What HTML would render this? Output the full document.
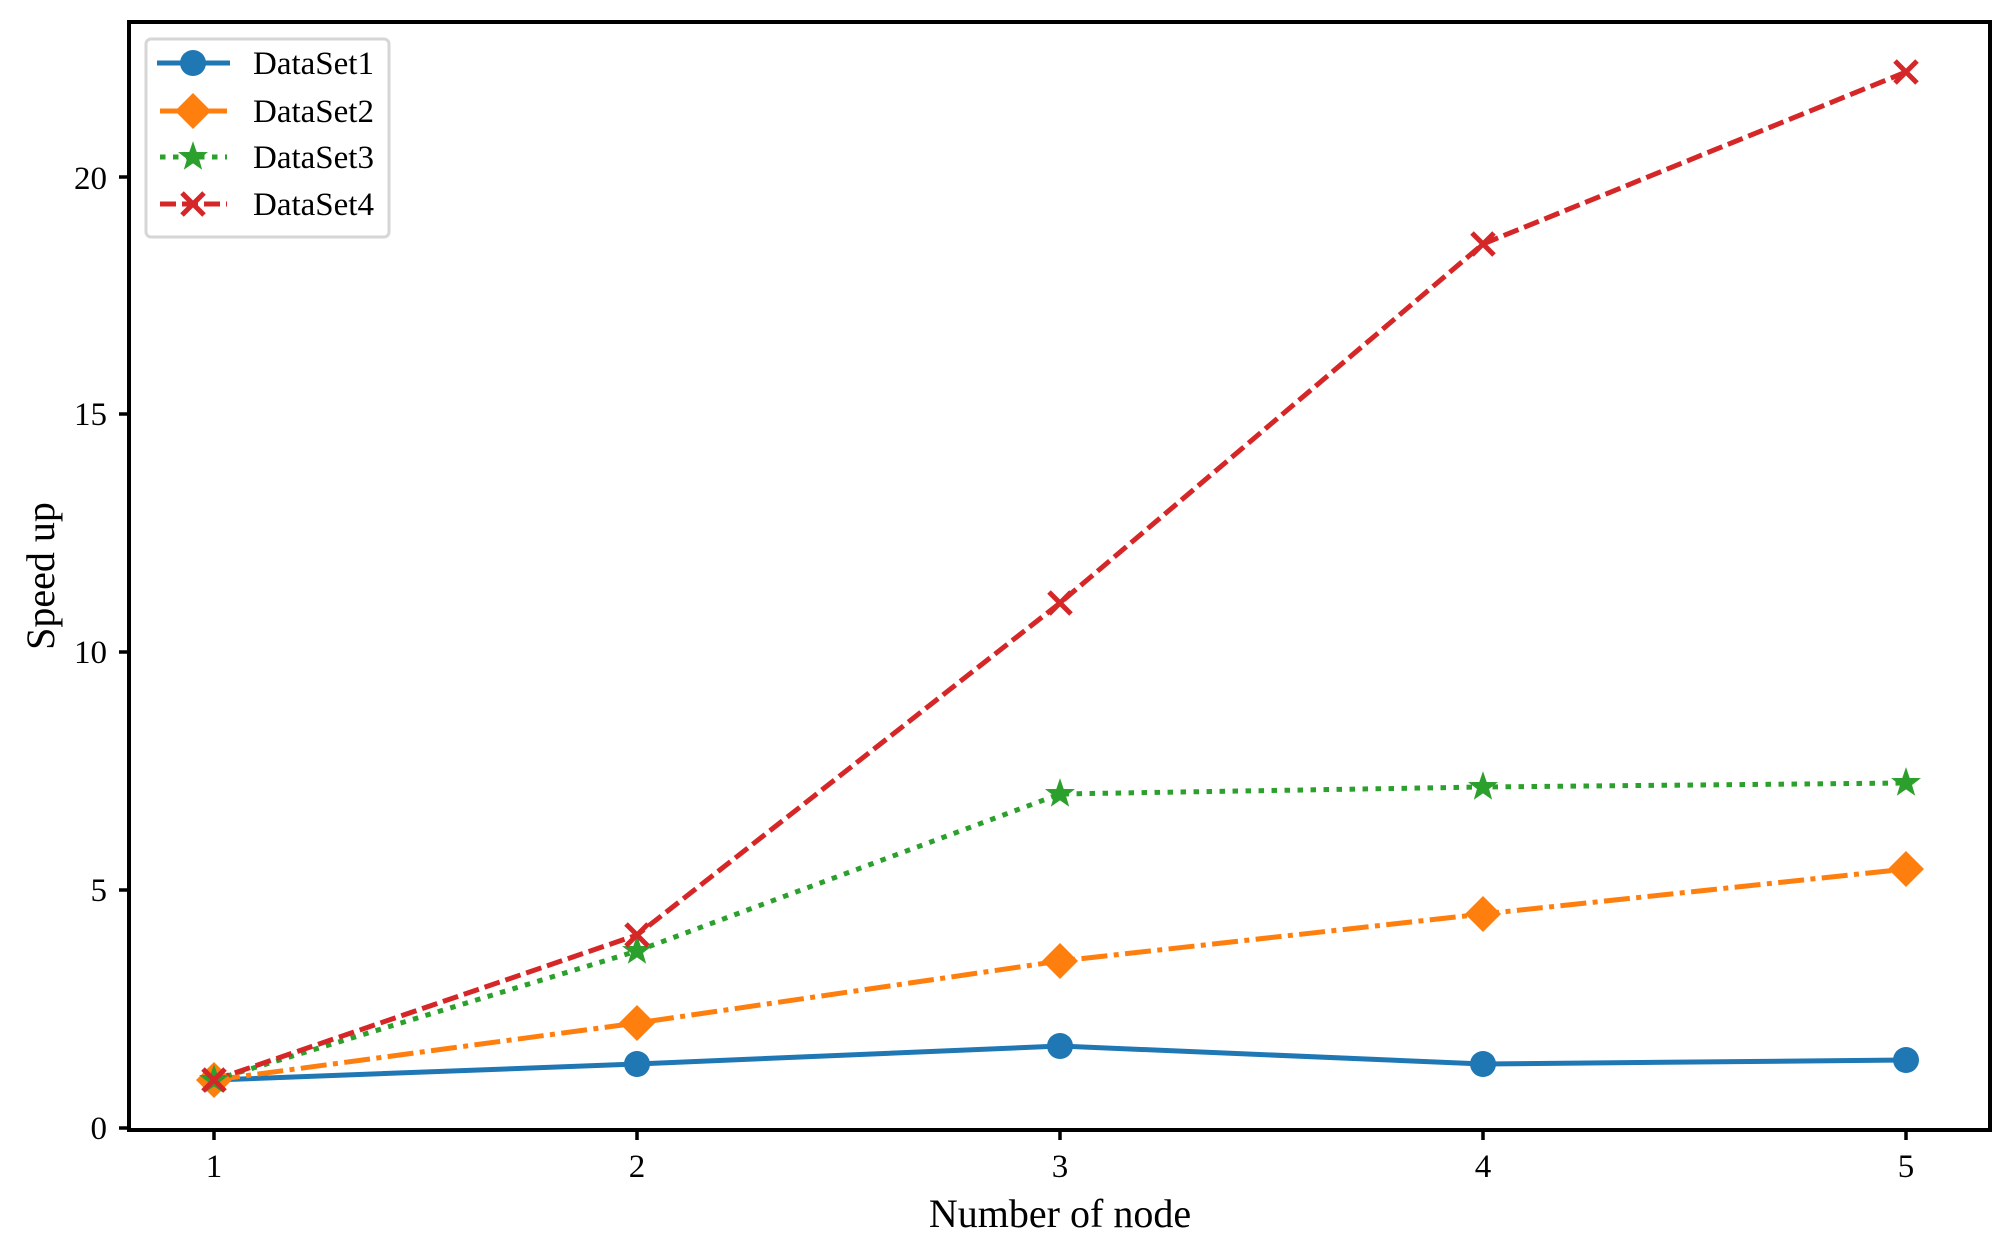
<!DOCTYPE html>
<html><head><meta charset="utf-8"><style>body{margin:0;background:#fff}svg{display:block}text{font-family:"Liberation Serif",serif;fill:#000}</style></head>
<body>
<svg width="2009" height="1244" viewBox="0 0 2009 1244" xmlns="http://www.w3.org/2000/svg">
<defs>
<circle id="c" r="13" fill="#1f77b4"/>
<polygon id="d" points="0,-18 18,0 0,18 -18,0" fill="#ff7f0e"/>
<polygon id="s" points="0,-12 2.8,-3.9 11.4,-3.7 4.6,1.5 7,9.7 0,4.9 -7,9.7 -4.6,1.5 -11.4,-3.7 -2.8,-3.9" fill="#2ca02c" stroke="#2ca02c" stroke-width="2.5"/>
<path id="x" d="M-11,-11L11,11M-11,11L11,-11" stroke="#d62728" stroke-width="5"/>
</defs>
<g fill="none" stroke-width="5">
<polyline stroke="#1f77b4" points="214,1080 637,1064 1060,1046 1483,1064 1906,1060"/>
<polyline stroke="#ff7f0e" stroke-dasharray="26,6.4,5,6.4" points="214,1080 637,1023 1060,961 1483,914 1906,869"/>
<polyline stroke="#2ca02c" stroke-dasharray="5.5,7.5" points="214,1080 637,951 1060,794 1483,787 1906,783"/>
<polyline stroke="#d62728" stroke-dasharray="16,6" points="214,1080 637,935 1060,603 1483,244 1906,72"/>
</g>
<g>
<use href="#c" x="214" y="1080"/><use href="#c" x="637" y="1064"/><use href="#c" x="1060" y="1046"/><use href="#c" x="1483" y="1064"/><use href="#c" x="1906" y="1060"/>
<use href="#d" x="214" y="1080"/><use href="#d" x="637" y="1023"/><use href="#d" x="1060" y="961"/><use href="#d" x="1483" y="914"/><use href="#d" x="1906" y="869"/>
<use href="#s" x="214" y="1080"/><use href="#s" x="637" y="951"/><use href="#s" x="1060" y="794"/><use href="#s" x="1483" y="787"/><use href="#s" x="1906" y="783"/>
<use href="#x" x="214" y="1080"/><use href="#x" x="637" y="935"/><use href="#x" x="1060" y="603"/><use href="#x" x="1483" y="244"/><use href="#x" x="1906" y="72"/>
</g>
<rect x="129" y="22" width="1861" height="1108" fill="none" stroke="#000" stroke-width="4"/>
<g stroke="#000" stroke-width="3.5">
<path d="M214,1130v10M637,1130v10M1060,1130v10M1483,1130v10M1906,1130v10"/>
<path d="M129,1128h-10M129,890h-10M129,652h-10M129,414h-10M129,177h-10"/>
</g>
<g font-size="33" text-anchor="middle">
<text x="214" y="1177">1</text><text x="637" y="1177">2</text><text x="1060" y="1177">3</text><text x="1483" y="1177">4</text><text x="1906" y="1177">5</text>
</g>
<g font-size="33" text-anchor="end">
<text x="107" y="1139">0</text><text x="107" y="901">5</text><text x="107" y="663">10</text><text x="107" y="425">15</text><text x="107" y="189">20</text>
</g>
<text x="1060" y="1227" font-size="40" text-anchor="middle">Number of node</text>
<text transform="translate(54,576) rotate(-90)" font-size="40" text-anchor="middle">Speed up</text>
<rect x="146" y="39" width="243" height="198" rx="5" fill="#fff" fill-opacity="0.8" stroke="#d6d6d6" stroke-width="3"/>
<g stroke-width="5" fill="none">
<path d="M157,63H230" stroke="#1f77b4"/>
<path d="M160,111H227" stroke="#ff7f0e" stroke-dasharray="26,6.4,5,6.4"/>
<path d="M160,157H227" stroke="#2ca02c" stroke-dasharray="5.5,7.5"/>
<path d="M160,204H227" stroke="#d62728" stroke-dasharray="16,6"/>
</g>
<use href="#c" x="193" y="63"/><use href="#d" x="193" y="111"/><use href="#s" x="193" y="157"/><use href="#x" x="193" y="204"/>
<g font-size="33">
<text x="253" y="74">DataSet1</text><text x="253" y="122">DataSet2</text><text x="253" y="168">DataSet3</text><text x="253" y="215">DataSet4</text>
</g>
</svg>
</body></html>
